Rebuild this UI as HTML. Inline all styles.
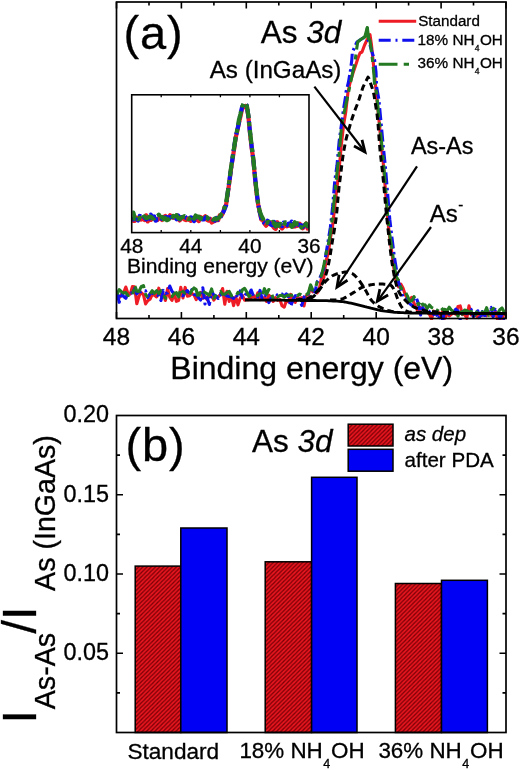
<!DOCTYPE html>
<html><head><meta charset="utf-8"><title>As 3d XPS</title><style>html,body{margin:0;padding:0;background:#fff;overflow:hidden;}svg{display:block;}text{stroke:#000;stroke-width:0.3px;}</style></head><body>
<svg width="520" height="770" viewBox="0 0 520 770" font-family="'Liberation Sans', Arial, sans-serif">
<defs>
<clipPath id="ca"><rect x="117" y="3" width="388.5" height="317"/></clipPath>
<clipPath id="ci"><rect x="132.3" y="95.4" width="176.3" height="136.8"/></clipPath>
<pattern id="hatch" patternUnits="userSpaceOnUse" width="4.2" height="4.2"><rect width="4.2" height="4.2" fill="#e8161f"/><path d="M-1 1 L1 -1 M0 4.2 L4.2 0 M3.2 5.2 L5.2 3.2" stroke="#7c0006" stroke-width="1.3"/></pattern>
</defs>
<rect width="520" height="770" fill="#fff"/>
<g clip-path="url(#ca)" fill="none" stroke-linejoin="round" stroke-linecap="butt">
<path d="M117.0 297.7 L119.2 297.8 L121.4 294.7 L123.6 292.7 L125.8 287.0 L128.0 293.8 L130.2 294.1 L132.4 286.6 L134.6 286.9 L136.8 303.7 L139.0 296.3 L141.2 292.5 L143.4 294.6 L145.6 303.9 L147.8 300.7 L150.0 299.3 L152.2 294.5 L154.4 295.3 L156.6 296.9 L158.8 288.2 L161.0 295.9 L163.2 293.5 L165.4 300.5 L167.6 288.6 L169.8 297.3 L172.0 300.4 L174.2 293.1 L176.4 301.3 L178.6 300.6 L180.8 287.3 L183.0 297.9 L185.2 287.4 L187.4 296.2 L189.6 295.8 L191.8 293.2 L194.0 294.9 L196.2 299.7 L198.4 294.9 L200.6 292.4 L202.8 298.3 L205.0 296.3 L207.2 299.8 L209.4 294.2 L211.6 295.3 L213.8 300.1 L216.0 297.1 L218.2 297.1 L220.4 294.6 L222.6 288.5 L224.8 304.2 L227.0 291.3 L229.2 301.5 L231.4 296.5 L233.6 305.6 L235.8 296.9 L238.0 304.8 L240.2 298.2 L242.4 295.3 L244.6 300.2 L246.8 299.4 L249.0 299.6 L251.2 297.8 L253.4 295.3 L255.6 299.2 L257.8 292.8 L260.0 299.8 L262.2 299.3 L264.4 297.3 L266.6 301.4 L268.8 295.1 L271.0 297.5 L273.2 301.5 L275.4 297.5 L277.6 300.3 L279.8 299.3 L282.0 305.8 L284.2 307.2 L286.4 300.5 L288.6 301.8 L290.8 294.4 L293.0 300.4 L295.2 302.4 L297.4 297.5 L299.6 298.4 L301.8 297.6 L304.0 305.9 L306.2 295.4 L308.4 295.0 L310.6 286.3 L312.8 291.8 L315.0 290.9 L317.2 292.9 L319.4 288.3 L321.6 277.2 L323.8 277.6 L326.0 260.7 L328.2 253.8 L330.4 237.9 L332.6 226.1 L334.8 205.8 L337.0 187.4 L339.2 168.3 L341.4 144.2 L343.6 125.0 L345.8 111.7 L348.0 92.0 L350.0 83.0 L353.0 73.0 L355.4 66.0 L358.0 58.0 L360.0 53.0 L362.0 52.0 L364.6 45.0 L367.0 40.0 L370.0 34.6 L371.5 45.0 L373.0 60.0 L374.5 75.0 L376.6 96.4 L378.8 118.3 L381.0 141.5 L383.2 162.4 L385.4 189.7 L387.6 219.0 L389.8 238.2 L392.0 253.7 L394.2 270.7 L396.4 281.4 L398.6 287.0 L400.8 284.1 L403.0 288.0 L405.2 294.6 L407.4 298.3 L409.6 300.2 L411.8 297.3 L414.0 303.2 L416.2 307.7 L418.4 312.7 L420.6 307.6 L422.8 308.5 L425.0 309.7 L427.2 312.4 L429.4 314.2 L431.6 319.0 L433.8 311.2 L436.0 314.3 L438.2 311.6 L440.4 316.7 L442.6 310.8 L444.8 318.3 L447.0 313.9 L449.2 316.0 L451.4 314.3 L453.6 312.6 L455.8 314.2 L458.0 306.4 L460.2 305.9 L462.4 314.6 L464.6 314.3 L466.8 318.3 L469.0 305.8 L471.2 315.0 L473.4 314.5 L475.6 315.4 L477.8 316.8 L480.0 314.9 L482.2 315.2 L484.4 314.7 L486.6 315.7 L488.8 312.4 L491.0 315.2 L493.2 316.3 L495.4 311.6 L497.6 319.5 L499.8 317.3 L502.0 319.5 L504.2 313.2 L506.4 314.6" stroke="#ee1c24" stroke-width="3.1"/>
<path d="M117.0 292.1 L119.2 302.3 L121.4 292.1 L123.6 296.6 L125.8 298.3 L128.0 292.9 L130.2 293.3 L132.4 292.8 L134.6 288.6 L136.8 293.8 L139.0 291.5 L141.2 291.8 L143.4 290.7 L145.6 290.9 L147.8 297.6 L150.0 293.7 L152.2 292.0 L154.4 295.1 L156.6 295.2 L158.8 295.7 L161.0 300.5 L163.2 290.4 L165.4 293.6 L167.6 292.7 L169.8 286.0 L172.0 291.3 L174.2 294.0 L176.4 294.1 L178.6 295.9 L180.8 294.7 L183.0 295.9 L185.2 292.3 L187.4 290.6 L189.6 293.8 L191.8 289.6 L194.0 294.3 L196.2 295.1 L198.4 297.4 L200.6 300.1 L202.8 287.8 L205.0 304.0 L207.2 297.7 L209.4 304.5 L211.6 290.9 L213.8 294.9 L216.0 296.0 L218.2 298.4 L220.4 294.5 L222.6 295.9 L224.8 294.3 L227.0 296.0 L229.2 296.5 L231.4 297.0 L233.6 298.4 L235.8 294.2 L238.0 297.8 L240.2 290.9 L242.4 297.7 L244.6 296.6 L246.8 292.4 L249.0 294.7 L251.2 290.0 L253.4 296.0 L255.6 296.4 L257.8 297.1 L260.0 290.4 L262.2 299.2 L264.4 295.7 L266.6 295.3 L268.8 302.6 L271.0 298.1 L273.2 298.7 L275.4 297.6 L277.6 294.5 L279.8 293.3 L282.0 294.0 L284.2 296.2 L286.4 293.8 L288.6 297.3 L290.8 306.2 L293.0 299.7 L295.2 295.7 L297.4 295.5 L299.6 299.8 L301.8 305.4 L304.0 297.3 L306.2 293.6 L308.4 293.9 L310.6 289.0 L312.8 290.1 L315.0 292.1 L317.2 281.8 L319.4 279.1 L321.6 273.9 L323.8 269.1 L326.0 253.7 L328.2 240.6 L330.4 227.2 L332.6 206.9 L334.8 180.6 L337.0 165.3 L339.2 141.0 L341.4 125.0 L343.6 108.6 L345.8 95.1 L346.0 92.0 L348.5 82.0 L350.5 70.0 L351.8 60.0 L352.3 52.7 L355.0 46.0 L357.0 42.0 L360.0 40.0 L363.0 38.0 L365.5 37.7 L368.0 40.0 L370.0 45.0 L372.0 52.0 L374.6 60.0 L376.0 72.0 L376.6 86.8 L378.8 98.9 L381.0 122.1 L383.2 145.7 L385.4 167.1 L387.6 193.1 L389.8 219.5 L392.0 238.0 L394.2 255.7 L396.4 269.3 L398.6 282.5 L400.8 288.4 L403.0 297.2 L405.2 297.4 L407.4 298.2 L409.6 303.5 L411.8 305.3 L414.0 298.0 L416.2 297.5 L418.4 303.6 L420.6 315.0 L422.8 307.5 L425.0 312.5 L427.2 308.8 L429.4 311.6 L431.6 309.8 L433.8 314.6 L436.0 311.6 L438.2 319.3 L440.4 315.5 L442.6 319.5 L444.8 311.3 L447.0 310.8 L449.2 314.2 L451.4 314.9 L453.6 312.6 L455.8 309.1 L458.0 310.9 L460.2 319.5 L462.4 311.7 L464.6 312.0 L466.8 313.6 L469.0 308.5 L471.2 309.4 L473.4 316.6 L475.6 313.6 L477.8 310.8 L480.0 319.5 L482.2 311.6 L484.4 315.4 L486.6 315.5 L488.8 308.1 L491.0 307.4 L493.2 316.6 L495.4 309.4 L497.6 310.7 L499.8 318.6 L502.0 314.3 L504.2 319.3 L506.4 319.1" stroke="#1010ee" stroke-width="3.1" stroke-dasharray="12 3.5 2.5 3.5"/>
<path d="M117.0 294.2 L119.2 289.7 L121.4 291.7 L123.6 293.1 L125.8 292.6 L128.0 295.5 L130.2 294.4 L132.4 295.7 L134.6 285.3 L136.8 291.1 L139.0 291.4 L141.2 286.7 L143.4 285.5 L145.6 294.2 L147.8 297.8 L150.0 293.8 L152.2 290.7 L154.4 293.1 L156.6 290.7 L158.8 293.5 L161.0 290.6 L163.2 294.1 L165.4 298.2 L167.6 298.2 L169.8 295.7 L172.0 296.5 L174.2 293.6 L176.4 292.7 L178.6 296.9 L180.8 288.4 L183.0 291.8 L185.2 293.2 L187.4 292.6 L189.6 294.8 L191.8 290.5 L194.0 287.9 L196.2 289.6 L198.4 299.0 L200.6 289.8 L202.8 291.2 L205.0 292.5 L207.2 293.9 L209.4 295.3 L211.6 288.9 L213.8 298.2 L216.0 295.3 L218.2 292.5 L220.4 291.3 L222.6 294.2 L224.8 294.3 L227.0 292.4 L229.2 291.4 L231.4 295.8 L233.6 295.1 L235.8 296.4 L238.0 292.3 L240.2 295.7 L242.4 289.8 L244.6 288.3 L246.8 292.0 L249.0 296.5 L251.2 294.7 L253.4 295.2 L255.6 295.1 L257.8 295.4 L260.0 293.6 L262.2 296.1 L264.4 288.7 L266.6 294.1 L268.8 289.5 L271.0 291.5 L273.2 298.8 L275.4 295.5 L277.6 297.0 L279.8 295.5 L282.0 295.3 L284.2 297.1 L286.4 295.7 L288.6 295.0 L290.8 295.3 L293.0 295.3 L295.2 294.0 L297.4 295.7 L299.6 294.0 L301.8 295.2 L304.0 293.9 L306.2 294.8 L308.4 293.0 L310.6 284.9 L312.8 290.1 L315.0 289.1 L317.2 282.0 L319.4 279.7 L321.6 275.0 L323.8 265.7 L326.0 253.7 L328.2 245.1 L330.4 233.2 L332.6 215.9 L334.8 194.2 L337.0 172.8 L339.2 153.3 L341.4 127.6 L343.6 115.3 L345.8 104.7 L348.0 95.0 L350.0 85.0 L353.0 71.0 L355.0 62.0 L356.5 50.0 L357.7 42.0 L360.0 40.0 L363.0 38.0 L366.0 36.0 L367.3 27.7 L368.5 38.0 L370.0 41.0 L371.5 52.0 L372.5 60.0 L374.0 75.0 L374.4 82.6 L376.6 93.0 L378.8 117.0 L381.0 136.9 L383.2 159.6 L385.4 185.9 L387.6 215.8 L389.8 235.3 L392.0 248.5 L394.2 265.9 L396.4 277.0 L398.6 280.6 L400.8 288.2 L403.0 288.9 L405.2 291.7 L407.4 295.9 L409.6 301.4 L411.8 300.8 L414.0 296.7 L416.2 301.3 L418.4 304.7 L420.6 300.4 L422.8 305.0 L425.0 304.8 L427.2 308.5 L429.4 305.0 L431.6 307.6 L433.8 308.4 L436.0 312.8 L438.2 308.9 L440.4 306.6 L442.6 309.5 L444.8 309.4 L447.0 310.7 L449.2 307.2 L451.4 310.2 L453.6 311.5 L455.8 310.2 L458.0 316.1 L460.2 310.1 L462.4 314.2 L464.6 310.0 L466.8 310.4 L469.0 312.3 L471.2 311.3 L473.4 315.9 L475.6 314.7 L477.8 309.8 L480.0 310.2 L482.2 312.1 L484.4 313.4 L486.6 307.7 L488.8 315.3 L491.0 310.5 L493.2 308.4 L495.4 309.9 L497.6 313.6 L499.8 309.8 L502.0 308.0 L504.2 312.0 L506.4 315.7" stroke="#237a23" stroke-width="3.1" stroke-dasharray="18 5 5 5"/>
<path d="M364.5 38 L367.3 27.7 L368.8 39" stroke="#237a23" stroke-width="3.1"/>
<path d="M245.0 300.0 L247.0 300.0 L249.0 300.0 L251.0 300.0 L253.0 300.0 L255.0 300.0 L257.0 300.1 L259.0 300.1 L261.0 300.1 L263.0 300.1 L265.0 300.1 L267.0 300.1 L269.0 300.1 L271.0 300.2 L273.0 300.2 L275.0 300.2 L277.0 300.2 L279.0 300.2 L281.0 300.2 L283.0 300.2 L285.0 300.3 L287.0 300.3 L289.0 300.3 L291.0 300.3 L293.0 300.3 L295.0 300.4 L297.0 300.4 L299.0 300.4 L301.0 300.4 L303.0 300.4 L305.0 300.4 L307.0 300.5 L309.0 300.5 L311.0 300.5 L313.0 300.5 L315.0 300.5 L317.0 300.6 L319.0 300.6 L321.0 300.6 L323.0 300.7 L325.0 300.7 L327.0 300.7 L329.0 300.8 L331.0 300.9 L333.0 301.0 L335.0 301.1 L337.0 301.2 L339.0 301.4 L341.0 301.5 L343.0 301.7 L345.0 302.0 L347.0 302.4 L349.0 302.8 L351.0 303.2 L353.0 303.6 L355.0 304.1 L357.0 304.6 L359.0 305.1 L361.0 305.6 L363.0 306.1 L365.0 306.7 L367.0 307.2 L369.0 307.6 L371.0 308.2 L373.0 308.7 L375.0 309.2 L377.0 309.7 L379.0 310.2 L381.0 310.6 L383.0 310.9 L385.0 311.2 L387.0 311.4 L389.0 311.7 L391.0 311.9 L393.0 312.1 L395.0 312.3 L397.0 312.4 L399.0 312.5 L401.0 312.6 L403.0 312.7 L405.0 312.8 L407.0 312.9 L409.0 313.0 L411.0 313.0 L413.0 313.1 L415.0 313.1 L417.0 313.2 L419.0 313.2 L421.0 313.2 L423.0 313.2 L425.0 313.2 L427.0 313.2 L429.0 313.3 L431.0 313.3 L433.0 313.3 L435.0 313.3 L437.0 313.3 L439.0 313.3 L441.0 313.3 L443.0 313.3 L445.0 313.4 L447.0 313.4 L449.0 313.4 L451.0 313.4 L453.0 313.4 L455.0 313.4 L457.0 313.4 L459.0 313.4 L461.0 313.4 L463.0 313.4 L465.0 313.4 L467.0 313.4 L469.0 313.4 L471.0 313.5 L473.0 313.5 L475.0 313.5 L477.0 313.5 L479.0 313.5 L481.0 313.5 L483.0 313.5 L485.0 313.5 L487.0 313.5 L489.0 313.5 L491.0 313.5 L493.0 313.5 L495.0 313.5 L497.0 313.5 L499.0 313.5 L501.0 313.5 L503.0 313.5 L505.0 313.5" stroke="#000" stroke-width="2.8"/>
<path d="M296.0 299.7 L297.0 299.7 L298.0 299.7 L299.0 299.6 L300.0 299.6 L301.0 299.5 L302.0 299.5 L303.0 299.4 L304.0 299.4 L305.0 299.3 L306.0 299.2 L307.0 298.9 L308.0 298.5 L309.0 297.9 L310.0 297.3 L311.0 296.6 L312.0 295.8 L313.0 295.0 L314.0 294.2 L315.0 293.3 L316.0 292.5 L317.0 291.5 L318.0 290.3 L319.0 289.0 L320.0 287.6 L321.0 286.1 L322.0 284.3 L323.0 282.4 L324.0 280.1 L325.0 277.5 L326.0 274.4 L327.0 271.0 L328.0 266.8 L329.0 261.7 L330.0 256.2 L331.0 250.0 L332.0 243.5 L333.0 237.6 L334.0 232.0 L335.0 226.0 L336.0 219.1 L337.0 210.1 L338.0 198.2 L339.0 187.5 L340.0 179.7 L341.0 171.8 L342.0 163.2 L343.0 155.9 L344.0 149.8 L345.0 144.4 L346.0 139.7 L347.0 135.6 L348.0 132.0 L349.0 128.7 L350.0 125.3 L351.0 122.0 L352.0 118.8 L353.0 115.7 L354.0 112.7 L355.0 110.0 L356.0 107.5 L357.0 105.0 L358.0 102.3 L359.0 99.4 L360.0 96.3 L361.0 93.2 L362.0 90.2 L363.0 87.1 L364.0 85.1 L365.0 83.1 L366.0 81.1 L367.0 79.1 L368.0 77.1 L369.0 78.6 L370.0 81.6 L371.0 84.5 L372.0 87.5 L373.0 90.5 L374.0 94.9 L375.0 101.2 L376.0 107.6 L377.0 114.0 L378.0 123.5 L379.0 137.3 L380.0 150.0 L381.0 159.2 L382.0 167.5 L383.0 177.0 L384.0 187.7 L385.0 199.0 L386.0 210.0 L387.0 220.0 L388.0 229.2 L389.0 238.4 L390.0 247.1 L391.0 255.3 L392.0 262.8 L393.0 269.2 L394.0 274.6 L395.0 279.4 L396.0 283.7 L397.0 287.3 L398.0 290.0 L399.0 292.0 L400.0 293.8 L401.0 295.3 L402.0 296.7 L403.0 297.9 L404.0 299.0 L405.0 300.0 L406.0 301.0 L407.0 301.9 L408.0 302.8 L409.0 303.7 L410.0 304.5 L411.0 305.2 L412.0 305.9 L413.0 306.5 L414.0 307.1 L415.0 307.5 L416.0 307.9 L417.0 308.3 L418.0 308.7 L419.0 309.0 L420.0 309.3 L421.0 309.7 L422.0 310.0 L423.0 310.2 L424.0 310.5 L425.0 310.7 L426.0 310.9 L427.0 311.1 L428.0 311.3 L429.0 311.4 L430.0 311.5 L431.0 311.6 L432.0 311.7 L433.0 311.7 L434.0 311.8 L435.0 311.9 L436.0 312.0 L437.0 312.0 L438.0 312.1 L439.0 312.1 L440.0 312.2 L441.0 312.2 L442.0 312.3 L443.0 312.3 L444.0 312.4 L445.0 312.4 L446.0 312.4 L447.0 312.4 L448.0 312.5 L449.0 312.5 L450.0 312.5 L451.0 312.5 L452.0 312.5 L453.0 312.5 L454.0 312.5 L455.0 312.6 L456.0 312.6 L457.0 312.6 L458.0 312.6 L459.0 312.6 L460.0 312.6" stroke="#000" stroke-width="3" stroke-dasharray="6.5 4"/>
<path d="M300.0 300.4 L301.0 300.4 L302.0 300.3 L303.0 300.3 L304.0 300.2 L305.0 300.1 L306.0 299.9 L307.0 299.8 L308.0 299.6 L309.0 299.3 L310.0 298.9 L311.0 298.3 L312.0 297.6 L313.0 296.8 L314.0 296.0 L315.0 295.1 L316.0 294.0 L317.0 292.8 L318.0 291.6 L319.0 290.3 L320.0 289.0 L321.0 287.7 L322.0 286.3 L323.0 284.8 L324.0 283.4 L325.0 282.1 L326.0 281.0 L327.0 280.0 L328.0 279.1 L329.0 278.2 L330.0 277.4 L331.0 276.7 L332.0 276.0 L333.0 275.5 L334.0 275.0 L335.0 274.6 L336.0 274.2 L337.0 273.8 L338.0 273.5 L339.0 273.2 L340.0 273.0 L341.0 272.8 L342.0 272.6 L343.0 272.4 L344.0 272.2 L345.0 272.1 L346.0 272.0 L347.0 272.0 L348.0 272.1 L349.0 272.4 L350.0 272.7 L351.0 273.1 L352.0 273.5 L353.0 274.0 L354.0 274.8 L355.0 275.7 L356.0 276.7 L357.0 277.8 L358.0 278.9 L359.0 280.2 L360.0 281.6 L361.0 283.1 L362.0 284.6 L363.0 286.2 L364.0 287.7 L365.0 289.3 L366.0 291.0 L367.0 292.9 L368.0 294.8 L369.0 296.6 L370.0 298.3 L371.0 299.8 L372.0 301.0 L373.0 302.0 L374.0 303.0 L375.0 303.8 L376.0 304.6 L377.0 305.3 L378.0 306.0 L379.0 306.6 L380.0 307.2 L381.0 307.7 L382.0 308.2 L383.0 308.7 L384.0 309.1 L385.0 309.5 L386.0 309.8 L387.0 310.1 L388.0 310.4 L389.0 310.6 L390.0 310.9 L391.0 311.2 L392.0 311.4 L393.0 311.6 L394.0 311.8 L395.0 312.0 L396.0 312.2 L397.0 312.3 L398.0 312.4 L399.0 312.5 L400.0 312.5" stroke="#000" stroke-width="3" stroke-dasharray="6.5 4"/>
<path d="M330.0 300.0 L331.0 300.0 L332.0 300.0 L333.0 300.0 L334.0 300.0 L335.0 299.9 L336.0 299.9 L337.0 299.7 L338.0 299.6 L339.0 299.5 L340.0 299.3 L341.0 299.2 L342.0 298.9 L343.0 298.6 L344.0 298.2 L345.0 297.7 L346.0 297.2 L347.0 296.6 L348.0 296.0 L349.0 295.3 L350.0 294.7 L351.0 294.1 L352.0 293.5 L353.0 292.9 L354.0 292.3 L355.0 291.7 L356.0 291.0 L357.0 290.4 L358.0 289.7 L359.0 289.1 L360.0 288.4 L361.0 287.9 L362.0 287.4 L363.0 287.0 L364.0 286.6 L365.0 286.3 L366.0 286.0 L367.0 285.7 L368.0 285.4 L369.0 285.2 L370.0 285.0 L371.0 284.8 L372.0 284.6 L373.0 284.4 L374.0 284.3 L375.0 284.1 L376.0 284.0 L377.0 284.0 L378.0 284.0 L379.0 284.0 L380.0 284.0 L381.0 284.1 L382.0 284.1 L383.0 284.1 L384.0 284.2 L385.0 284.2 L386.0 284.3 L387.0 284.4 L388.0 284.5 L389.0 284.8 L390.0 285.0 L391.0 285.4 L392.0 286.3 L393.0 287.8 L394.0 289.7 L395.0 291.7 L396.0 294.3 L397.0 297.2 L398.0 299.7 L399.0 302.1 L400.0 304.2 L401.0 306.0 L402.0 307.5 L403.0 308.8 L404.0 309.8 L405.0 310.5 L406.0 310.9 L407.0 311.3 L408.0 311.6 L409.0 311.9 L410.0 312.1 L411.0 312.2 L412.0 312.3 L413.0 312.3 L414.0 312.3 L415.0 312.4 L416.0 312.4 L417.0 312.4 L418.0 312.4 L419.0 312.4 L420.0 312.4 L421.0 312.5 L422.0 312.5 L423.0 312.5 L424.0 312.5 L425.0 312.5 L426.0 312.5 L427.0 312.5 L428.0 312.5 L429.0 312.5 L430.0 312.5" stroke="#000" stroke-width="3" stroke-dasharray="6.5 4"/>
</g>
<line x1="314.4" y1="86.7" x2="365" y2="152" stroke="#000" stroke-width="2.2"/>
<path d="M354.0 146.1 L365 152 L362.0 139.9" fill="none" stroke="#000" stroke-width="2.8" stroke-linejoin="miter"/>
<line x1="417" y1="166.3" x2="337" y2="287" stroke="#000" stroke-width="2.2"/>
<path d="M339.1 274.7 L337 287 L347.5 280.3" fill="none" stroke="#000" stroke-width="2.8" stroke-linejoin="miter"/>
<line x1="431" y1="227" x2="377.3" y2="301.3" stroke="#000" stroke-width="2.2"/>
<path d="M379.9 289.1 L377.3 301.3 L388.1 295.0" fill="none" stroke="#000" stroke-width="2.8" stroke-linejoin="miter"/>
<rect x="116.5" y="2.0" width="389.5" height="316.5" fill="none" stroke="#000" stroke-width="1.7"/>
<path d="M116.5 318.5 V312.0 M116.5 2.0 V8.5 M149.0 318.5 V315.0 M149.0 2.0 V5.5 M181.4 318.5 V312.0 M181.4 2.0 V8.5 M213.9 318.5 V315.0 M213.9 2.0 V5.5 M246.3 318.5 V312.0 M246.3 2.0 V8.5 M278.8 318.5 V315.0 M278.8 2.0 V5.5 M311.2 318.5 V312.0 M311.2 2.0 V8.5 M343.7 318.5 V315.0 M343.7 2.0 V5.5 M376.2 318.5 V312.0 M376.2 2.0 V8.5 M408.6 318.5 V315.0 M408.6 2.0 V5.5 M441.1 318.5 V312.0 M441.1 2.0 V8.5 M473.5 318.5 V315.0 M473.5 2.0 V5.5 M506.0 318.5 V312.0 M506.0 2.0 V8.5" stroke="#000" stroke-width="1.6"/>
<text x="116.5" y="345.0" font-size="24.5" text-anchor="middle">48</text>
<text x="181.4" y="345.0" font-size="24.5" text-anchor="middle">46</text>
<text x="246.3" y="345.0" font-size="24.5" text-anchor="middle">44</text>
<text x="311.2" y="345.0" font-size="24.5" text-anchor="middle">42</text>
<text x="376.2" y="345.0" font-size="24.5" text-anchor="middle">40</text>
<text x="441.1" y="345.0" font-size="24.5" text-anchor="middle">38</text>
<text x="506.0" y="345.0" font-size="24.5" text-anchor="middle">36</text>
<text x="311.7" y="379.4" font-size="32" text-anchor="middle">Binding energy (eV)</text>
<text x="123.6" y="49" font-size="47" letter-spacing="0.8">(a)</text>
<text x="260.7" y="43.2" font-size="31.5">As <tspan font-style="italic">3d</tspan></text>
<text x="209.7" y="78.3" font-size="24.2">As (InGaAs)</text>
<text x="411" y="153.6" font-size="23.4">As-As</text>
<text x="429.8" y="221.6" font-size="24">As<tspan font-size="15" dx="0.5" dy="-11.8">-</tspan></text>
<line x1="378.7" y1="21.3" x2="416.2" y2="21.3" stroke="#ee1c24" stroke-width="3"/>
<path d="M378.7 40.3 H390.7 M395.5 40.3 H397.5 M402.3 40.3 H414.3" stroke="#1010ee" stroke-width="3"/>
<path d="M378.7 64.3 H397.5 M403.7 64.3 H409" stroke="#237a23" stroke-width="3"/>
<text x="418.2" y="26.2" font-size="15.2">Standard</text>
<text x="417.6" y="45.1" font-size="15.3">18% NH<tspan font-size="8.5" dx="0.3" dy="5.5">4</tspan><tspan dx="0.3" dy="-5.5">OH</tspan></text>
<text x="417.6" y="68.2" font-size="15.3">36% NH<tspan font-size="8.5" dx="0.3" dy="5.5">4</tspan><tspan dx="0.3" dy="-5.5">OH</tspan></text>
<g clip-path="url(#ci)" fill="none" stroke-linejoin="round">
<path d="M131.7 218.7 L133.3 221.0 L134.9 220.8 L136.5 217.7 L138.1 218.1 L139.7 217.7 L141.3 219.6 L142.9 218.5 L144.5 220.0 L146.1 215.3 L147.7 221.4 L149.3 218.5 L150.9 219.9 L152.5 218.4 L154.1 218.0 L155.7 219.5 L157.3 220.1 L158.9 218.3 L160.5 218.4 L162.1 219.9 L163.7 217.1 L165.3 216.0 L166.9 219.4 L168.5 217.5 L170.1 215.3 L171.7 217.3 L173.3 217.9 L174.9 216.6 L176.5 216.1 L178.1 218.9 L179.7 220.4 L181.3 218.4 L182.9 217.5 L184.5 219.5 L186.1 220.2 L187.7 218.4 L189.3 219.9 L190.9 220.8 L192.5 218.6 L194.1 217.6 L195.7 219.7 L197.3 219.6 L198.9 221.1 L200.5 216.9 L202.1 218.1 L203.7 217.9 L205.3 216.3 L206.9 219.8 L208.5 220.6 L210.1 218.6 L211.7 222.5 L213.3 221.6 L214.9 221.0 L216.5 220.1 L218.1 220.2 L219.7 215.5 L221.3 216.0 L222.9 213.2 L224.5 207.6 L226.1 204.8 L227.7 193.8 L229.3 182.6 L230.9 169.9 L232.5 159.6 L234.1 149.1 L235.7 137.6 L237.3 131.0 L238.9 123.1 L240.5 116.3 L242.1 108.8 L243.7 107.2 L245.3 105.9 L246.9 106.3 L248.5 117.9 L250.1 134.2 L251.7 148.3 L253.3 159.3 L254.9 177.2 L256.5 192.5 L258.1 204.2 L259.7 211.7 L261.3 219.7 L262.9 220.0 L264.5 223.7 L266.1 225.7 L267.7 221.6 L269.3 224.1 L270.9 222.7 L272.5 225.5 L274.1 227.9 L275.7 228.9 L277.3 222.2 L278.9 224.5 L280.5 226.8 L282.1 228.4 L283.7 226.4 L285.3 224.4 L286.9 226.3 L288.5 225.7 L290.1 225.4 L291.7 224.5 L293.3 226.6 L294.9 226.5 L296.5 225.8 L298.1 225.6 L299.7 223.7 L301.3 225.2 L302.9 228.2 L304.5 225.7 L306.1 223.5 L307.7 228.5 L309.3 227.1" stroke="#ee1c24" stroke-width="4.2"/>
<path d="M131.7 217.8 L133.3 219.5 L134.9 219.0 L136.5 219.0 L138.1 220.4 L139.7 215.9 L141.3 216.8 L142.9 215.7 L144.5 217.6 L146.1 219.4 L147.7 217.8 L149.3 218.6 L150.9 214.8 L152.5 218.1 L154.1 216.4 L155.7 220.7 L157.3 219.3 L158.9 219.4 L160.5 217.8 L162.1 218.9 L163.7 218.9 L165.3 217.4 L166.9 217.1 L168.5 217.7 L170.1 217.0 L171.7 217.0 L173.3 217.5 L174.9 216.8 L176.5 219.2 L178.1 215.4 L179.7 219.3 L181.3 217.0 L182.9 217.2 L184.5 215.9 L186.1 217.8 L187.7 217.7 L189.3 218.4 L190.9 217.3 L192.5 218.3 L194.1 221.1 L195.7 218.9 L197.3 217.4 L198.9 219.9 L200.5 218.2 L202.1 219.4 L203.7 219.5 L205.3 218.0 L206.9 215.7 L208.5 218.4 L210.1 219.9 L211.7 218.6 L213.3 220.0 L214.9 220.6 L216.5 217.9 L218.1 219.6 L219.7 218.4 L221.3 215.6 L222.9 212.9 L224.5 209.6 L226.1 205.3 L227.7 193.3 L229.3 181.4 L230.9 169.7 L232.5 158.4 L234.1 147.3 L235.7 136.8 L237.3 130.0 L238.9 122.7 L240.5 114.0 L242.1 106.9 L243.7 104.6 L245.3 103.8 L246.9 105.7 L248.5 117.1 L250.1 133.3 L251.7 146.7 L253.3 159.5 L254.9 175.6 L256.5 191.0 L258.1 203.6 L259.7 212.1 L261.3 218.3 L262.9 221.5 L264.5 223.1 L266.1 224.0 L267.7 220.8 L269.3 222.8 L270.9 224.8 L272.5 225.2 L274.1 222.0 L275.7 226.4 L277.3 223.9 L278.9 224.3 L280.5 225.2 L282.1 226.0 L283.7 222.6 L285.3 226.5 L286.9 225.1 L288.5 223.7 L290.1 224.6 L291.7 221.6 L293.3 224.0 L294.9 225.4 L296.5 224.0 L298.1 224.6 L299.7 225.0 L301.3 225.3 L302.9 226.9 L304.5 225.2 L306.1 224.9 L307.7 226.2 L309.3 228.6" stroke="#1010ee" stroke-width="4.2" stroke-dasharray="9 3 2 3"/>
<path d="M131.7 219.9 L133.3 212.6 L134.9 218.6 L136.5 217.3 L138.1 219.2 L139.7 217.8 L141.3 219.9 L142.9 217.3 L144.5 216.4 L146.1 218.1 L147.7 217.9 L149.3 216.7 L150.9 216.9 L152.5 218.3 L154.1 218.3 L155.7 216.5 L157.3 216.7 L158.9 214.6 L160.5 219.8 L162.1 216.9 L163.7 219.3 L165.3 217.9 L166.9 220.2 L168.5 219.6 L170.1 217.8 L171.7 219.6 L173.3 215.9 L174.9 219.2 L176.5 215.2 L178.1 217.9 L179.7 219.0 L181.3 217.7 L182.9 216.9 L184.5 216.2 L186.1 217.0 L187.7 219.1 L189.3 218.9 L190.9 217.2 L192.5 215.7 L194.1 218.6 L195.7 215.5 L197.3 216.9 L198.9 216.7 L200.5 218.9 L202.1 218.2 L203.7 218.6 L205.3 218.4 L206.9 217.1 L208.5 219.1 L210.1 220.5 L211.7 218.6 L213.3 219.6 L214.9 218.4 L216.5 219.4 L218.1 218.2 L219.7 216.9 L221.3 214.2 L222.9 212.7 L224.5 207.7 L226.1 203.0 L227.7 192.3 L229.3 181.1 L230.9 168.5 L232.5 157.9 L234.1 147.9 L235.7 137.4 L237.3 129.5 L238.9 120.1 L240.5 113.9 L242.1 107.0 L243.7 103.1 L245.3 102.9 L246.9 106.3 L248.5 116.1 L250.1 131.9 L251.7 146.3 L253.3 158.6 L254.9 175.5 L256.5 190.6 L258.1 202.8 L259.7 211.3 L261.3 215.6 L262.9 218.5 L264.5 222.9 L266.1 223.4 L267.7 222.1 L269.3 221.8 L270.9 223.3 L272.5 221.9 L274.1 223.3 L275.7 226.3 L277.3 224.2 L278.9 225.8 L280.5 223.8 L282.1 224.7 L283.7 226.3 L285.3 222.3 L286.9 223.8 L288.5 224.1 L290.1 224.8 L291.7 226.8 L293.3 225.5 L294.9 222.3 L296.5 224.1 L298.1 223.2 L299.7 223.2 L301.3 227.6 L302.9 223.1 L304.5 225.0 L306.1 223.6 L307.7 226.0 L309.3 225.2" stroke="#237a23" stroke-width="4.2" stroke-dasharray="14 4 4 4"/>
</g>
<rect x="131.7" y="94.8" width="177.3" height="137.8" fill="none" stroke="#000" stroke-width="1.6"/>
<path d="M161.2 232.6 V230.1 M161.2 94.8 V97.3 M190.8 232.6 V230.1 M190.8 94.8 V97.3 M220.4 232.6 V230.1 M220.4 94.8 V97.3 M249.9 232.6 V230.1 M249.9 94.8 V97.3 M279.4 232.6 V230.1 M279.4 94.8 V97.3" stroke="#000" stroke-width="1.3"/>
<text x="131.7" y="252.5" font-size="20.8" text-anchor="middle">48</text>
<text x="190.8" y="252.5" font-size="20.8" text-anchor="middle">44</text>
<text x="249.9" y="252.5" font-size="20.8" text-anchor="middle">40</text>
<text x="309.0" y="252.5" font-size="20.8" text-anchor="middle">36</text>
<text x="220.2" y="273.3" font-size="21.1" text-anchor="middle">Binding energy (eV)</text>
<rect x="135.2" y="566.1" width="45.6" height="166.4" fill="url(#hatch)" stroke="#000" stroke-width="1.5"/>
<rect x="180.8" y="528.0" width="46.2" height="204.5" fill="#0000f5" stroke="#000" stroke-width="1.5"/>
<rect x="265.2" y="561.8" width="46.4" height="170.7" fill="url(#hatch)" stroke="#000" stroke-width="1.5"/>
<rect x="311.6" y="477.3" width="45.4" height="255.2" fill="#0000f5" stroke="#000" stroke-width="1.5"/>
<rect x="395.4" y="583.5" width="46.1" height="149.0" fill="url(#hatch)" stroke="#000" stroke-width="1.5"/>
<rect x="441.5" y="580.3" width="45.9" height="152.2" fill="#0000f5" stroke="#000" stroke-width="1.5"/>
<rect x="116.5" y="415.5" width="389.5" height="317.0" fill="none" stroke="#000" stroke-width="1.7"/>
<path d="M116.5 692.9 H120.0 M506.0 692.9 H502.5 M116.5 653.2 H123.0 M506.0 653.2 H499.5 M116.5 613.6 H120.0 M506.0 613.6 H502.5 M116.5 574.0 H123.0 M506.0 574.0 H499.5 M116.5 534.4 H120.0 M506.0 534.4 H502.5 M116.5 494.8 H123.0 M506.0 494.8 H499.5 M116.5 455.1 H120.0 M506.0 455.1 H502.5" stroke="#000" stroke-width="1.6"/>
<text x="109" y="660.1" font-size="23.4" text-anchor="end">0.05</text>
<text x="109" y="580.9" font-size="23.4" text-anchor="end">0.10</text>
<text x="109" y="501.6" font-size="23.4" text-anchor="end">0.15</text>
<text x="109" y="422.4" font-size="23.4" text-anchor="end">0.20</text>
<text x="173.3" y="758.9" font-size="22.6" text-anchor="middle">Standard</text>
<text x="302" y="758.3" font-size="22.4" text-anchor="middle">18% NH<tspan font-size="12.5" dx="0.5" dy="9.8">4</tspan><tspan dx="0.8" dy="-9.8">OH</tspan></text>
<text x="441" y="758.3" font-size="22.4" text-anchor="middle">36% NH<tspan font-size="12.5" dx="0.5" dy="9.8">4</tspan><tspan dx="0.8" dy="-9.8">OH</tspan></text>
<text x="125.6" y="460.6" font-size="47" letter-spacing="0.8">(b)</text>
<text x="251.9" y="451.7" font-size="31.5">As <tspan font-style="italic">3d</tspan></text>
<rect x="348.2" y="424.2" width="44.8" height="21.8" fill="url(#hatch)" stroke="#000" stroke-width="1.5"/>
<rect x="348.2" y="449.3" width="44.8" height="21.9" fill="#0000f5" stroke="#000" stroke-width="1.5"/>
<text x="404.5" y="441.2" font-size="20.5" font-style="italic">as dep</text>
<text x="404.5" y="467.3" font-size="20.6">after PDA</text>
<text transform="translate(36.3 723.5) rotate(-90)" font-size="49">I</text>
<text transform="translate(55.2 709.3) rotate(-90)" font-size="28.7">As-As</text>
<text transform="translate(36.3 633.6) rotate(-90)" font-size="49">/I</text>
<text transform="translate(55.0 590.9) rotate(-90)" font-size="28.6">As (InGaAs)</text>
</svg>
</body></html>
